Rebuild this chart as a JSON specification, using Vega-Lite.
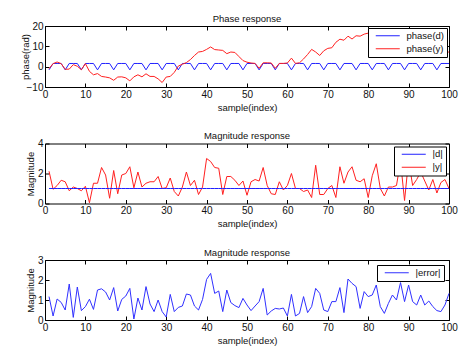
{
"$schema": "https://vega.github.io/schema/vega-lite/v6.json",
"autosize": {"type": "none"},
"padding": {"left": 45, "top": 26, "right": 429, "bottom": 336},
"datasets": {"d": [
{"n":1,"pd":-1.57,"py":-1,"md":1,"my":2.15,"e":1.17},
{"n":2,"pd":1.57,"py":1.5,"md":1,"my":0.95,"e":0.2},
{"n":3,"pd":1.57,"py":2.3,"md":1,"my":1.2,"e":1.05},
{"n":4,"pd":1.57,"py":1.5,"md":1,"my":1.55,"e":0.88},
{"n":5,"pd":-1.57,"py":-1.3,"md":1,"my":1.45,"e":0.5},
{"n":6,"pd":1.57,"py":-1.2,"md":1,"my":0.85,"e":1.8},
{"n":7,"pd":1.57,"py":1.0,"md":1,"my":1.1,"e":0.13},
{"n":8,"pd":1.57,"py":0.2,"md":1,"my":1.0,"e":1.65},
{"n":9,"pd":-1.57,"py":-1.5,"md":1,"my":0.85,"e":0.47},
{"n":10,"pd":1.57,"py":1.5,"md":1,"my":1.15,"e":0.67},
{"n":11,"pd":1.57,"py":-2.3,"md":1,"my":0.05,"e":1.04},
{"n":12,"pd":1.57,"py":-4,"md":1,"my":1.35,"e":0.53},
{"n":13,"pd":-1.57,"py":-3.4,"md":1,"my":1.35,"e":1.5},
{"n":14,"pd":1.57,"py":-4.8,"md":1,"my":2.4,"e":1.56},
{"n":15,"pd":1.57,"py":-5.1,"md":1,"my":1.9,"e":1.4},
{"n":16,"pd":1.57,"py":-5.5,"md":1,"my":0.35,"e":1.0},
{"n":17,"pd":-1.57,"py":-6.7,"md":1,"my":2.2,"e":1.62},
{"n":18,"pd":1.57,"py":-5.1,"md":1,"my":0.65,"e":0.45},
{"n":19,"pd":1.57,"py":-5,"md":1,"my":1.9,"e":1.03},
{"n":20,"pd":1.57,"py":-5.5,"md":1,"my":2.0,"e":1.2},
{"n":21,"pd":-1.57,"py":-7,"md":1,"my":2.45,"e":1.58},
{"n":22,"pd":1.57,"py":-5,"md":1,"my":1.05,"e":0.05},
{"n":23,"pd":1.57,"py":-4,"md":1,"my":2.1,"e":1.1},
{"n":24,"pd":1.57,"py":-5,"md":1,"my":1.1,"e":0.5},
{"n":25,"pd":-1.57,"py":-3.5,"md":1,"my":1.35,"e":1.67},
{"n":26,"pd":1.57,"py":-4.8,"md":1,"my":1.45,"e":0.8},
{"n":27,"pd":1.57,"py":-4.8,"md":1,"my":1.45,"e":0.42},
{"n":28,"pd":1.57,"py":-6,"md":1,"my":1.8,"e":1.0},
{"n":29,"pd":-1.57,"py":-7.8,"md":1,"my":1.0,"e":0.42},
{"n":30,"pd":1.57,"py":-5.1,"md":1,"my":1.05,"e":0.15},
{"n":31,"pd":1.57,"py":-4.8,"md":1,"my":1.7,"e":1.28},
{"n":32,"pd":1.57,"py":-2.8,"md":1,"my":0.8,"e":0.42},
{"n":33,"pd":-1.57,"py":0.3,"md":1,"my":0.5,"e":0.63},
{"n":34,"pd":1.57,"py":1.2,"md":1,"my":1.1,"e":0.7},
{"n":35,"pd":1.57,"py":2,"md":1,"my":2.1,"e":1.3},
{"n":36,"pd":1.57,"py":3.5,"md":1,"my":1.2,"e":1.25},
{"n":37,"pd":-1.57,"py":5.5,"md":1,"my":1.55,"e":0.7},
{"n":38,"pd":1.57,"py":7.2,"md":1,"my":0.6,"e":0.5},
{"n":39,"pd":1.57,"py":7.5,"md":1,"my":1.1,"e":1.03},
{"n":40,"pd":1.57,"py":8.5,"md":1,"my":3.0,"e":2.03},
{"n":41,"pd":-1.57,"py":9.7,"md":1,"my":2.8,"e":2.33},
{"n":42,"pd":1.57,"py":8.4,"md":1,"my":2.4,"e":1.33},
{"n":43,"pd":1.57,"py":8.2,"md":1,"my":2.35,"e":1.45},
{"n":44,"pd":1.57,"py":8,"md":1,"my":0.6,"e":0.42},
{"n":45,"pd":-1.57,"py":6.4,"md":1,"my":1.8,"e":1.5},
{"n":46,"pd":1.57,"py":7.2,"md":1,"my":1.8,"e":0.87},
{"n":47,"pd":1.57,"py":7,"md":1,"my":1.55,"e":0.72},
{"n":48,"pd":1.57,"py":5,"md":1,"my":1.2,"e":0.62},
{"n":49,"pd":-1.57,"py":3,"md":1,"my":1.5,"e":1.08},
{"n":50,"pd":1.57,"py":2.2,"md":1,"my":0.55,"e":0.75},
{"n":51,"pd":1.57,"py":1.8,"md":1,"my":1.45,"e":0.47},
{"n":52,"pd":1.57,"py":1.6,"md":1,"my":1.6,"e":0.7},
{"n":53,"pd":-1.57,"py":-0.8,"md":1,"my":1.5,"e":0.92},
{"n":54,"pd":1.57,"py":1.9,"md":1,"my":2.4,"e":1.58},
{"n":55,"pd":1.57,"py":1.9,"md":1,"my":1.2,"e":0.25},
{"n":56,"pd":1.57,"py":1.8,"md":1,"my":0.65,"e":0.45},
{"n":57,"pd":-1.57,"py":-0.8,"md":1,"my":0.6,"e":0.58},
{"n":58,"pd":1.57,"py":1.6,"md":1,"my":1.45,"e":0.55},
{"n":59,"pd":1.57,"py":1.6,"md":1,"my":0.9,"e":0.6},
{"n":60,"pd":1.57,"py":1.8,"md":1,"my":1.2,"e":0.2},
{"n":61,"pd":-1.57,"py":4.2,"md":1,"my":2.0,"e":1.28},
{"n":62,"pd":1.57,"py":1.6,"md":1,"my":1.0,"e":0.2},
{"n":63,"pd":1.57,"py":1.9,"md":1,"my":1.0,"e":0.33},
{"n":64,"pd":1.57,"py":3.8,"md":1,"my":0.8,"e":1.17},
{"n":65,"pd":-1.57,"py":6,"md":1,"my":0.9,"e":0.37},
{"n":66,"pd":1.57,"py":8.5,"md":1,"my":0.4,"e":0.67},
{"n":67,"pd":1.57,"py":7.2,"md":1,"my":2.55,"e":1.58},
{"n":68,"pd":1.57,"py":5.5,"md":1,"my":0.6,"e":1.33},
{"n":69,"pd":-1.57,"py":7.8,"md":1,"my":0.6,"e":0.5},
{"n":70,"pd":1.57,"py":9,"md":1,"my":1.0,"e":0.42},
{"n":71,"pd":1.57,"py":9.3,"md":1,"my":1.2,"e":0.92},
{"n":72,"pd":1.57,"py":12,"md":1,"my":0.4,"e":0.92},
{"n":73,"pd":-1.57,"py":13.5,"md":1,"my":2.45,"e":1.62},
{"n":74,"pd":1.57,"py":13,"md":1,"my":1.35,"e":0.37},
{"n":75,"pd":1.57,"py":15,"md":1,"my":2.1,"e":2.05},
{"n":76,"pd":1.57,"py":13.6,"md":1,"my":2.45,"e":1.83},
{"n":77,"pd":-1.57,"py":15.2,"md":1,"my":1.55,"e":1.67},
{"n":78,"pd":1.57,"py":15,"md":1,"my":1.45,"e":0.58},
{"n":79,"pd":1.57,"py":16,"md":1,"my":1.65,"e":1.42},
{"n":80,"pd":1.57,"py":16.5,"md":1,"my":0.4,"e":1.17},
{"n":81,"pd":-1.57,"py":17,"md":1,"my":1.85,"e":1.25},
{"n":82,"pd":1.57,"py":16.5,"md":1,"my":2.65,"e":1.75},
{"n":83,"pd":1.57,"py":17.5,"md":1,"my":1.0,"e":0.67},
{"n":84,"pd":1.57,"py":18,"md":1,"my":0.5,"e":0.33},
{"n":85,"pd":-1.57,"py":17,"md":1,"my":1.1,"e":0.83},
{"n":86,"pd":1.57,"py":18.5,"md":1,"my":1.1,"e":1.25},
{"n":87,"pd":1.57,"py":17.5,"md":1,"my":1.2,"e":1.0},
{"n":88,"pd":1.57,"py":18,"md":1,"my":2.8,"e":1.87},
{"n":89,"pd":-1.57,"py":17.5,"md":1,"my":0.2,"e":0.92},
{"n":90,"pd":1.57,"py":18,"md":1,"my":2.9,"e":1.75},
{"n":91,"pd":1.57,"py":17,"md":1,"my":1.2,"e":0.92},
{"n":92,"pd":1.57,"py":17.5,"md":1,"my":1.6,"e":0.75},
{"n":93,"pd":-1.57,"py":16.5,"md":1,"my":2.1,"e":1.25},
{"n":94,"pd":1.57,"py":17,"md":1,"my":1.5,"e":0.75},
{"n":95,"pd":1.57,"py":16,"md":1,"my":0.9,"e":0.95},
{"n":96,"pd":1.57,"py":14,"md":1,"my":1.6,"e":0.67},
{"n":97,"pd":-1.57,"py":12,"md":1,"my":0.7,"e":0.47},
{"n":98,"pd":1.57,"py":9.5,"md":1,"my":1.4,"e":0.42},
{"n":99,"pd":1.57,"py":8.5,"md":1,"my":1.6,"e":0.75},
{"n":100,"pd":1.57,"py":7,"md":1,"my":1.0,"e":1.33}
]},
"data": {"name": "d"},
"bounds": "flush",
"spacing": 56.5,
"vconcat": [
{
"title": "Phase response",
"width": 404, "height": 61,
"layer": [
{"mark": {"type": "line", "strokeWidth": 1},
 "encoding": {
  "x": {"field": "n", "type": "quantitative", "scale": {"domain": [0, 100]}, "axis": {"title": "sample(index)", "values": [0,10,20,30,40,50,60,70,80,90,100]}},
  "y": {"field": "pd", "type": "quantitative", "scale": {"domain": [-10, 20]}, "axis": {"title": "phase(rad)", "titlePadding": -4, "values": [-10,0,10,20]}},
  "color": {"datum": "phase(d)", "scale": {"domain": ["phase(d)", "phase(y)"], "range": ["#2020ff", "#ff2020"]}, "legend": {"title": null, "orient": "top-right", "offset": 2, "encode": {"symbols": {"update": {"stroke": {"signal": "datum.value == 'phase(y)' ? '#ff2020' : '#2020ff'"}}}}}}}},
{"mark": {"type": "line", "strokeWidth": 1},
 "encoding": {
  "x": {"field": "n", "type": "quantitative", "axis": null},
  "y": {"field": "py", "type": "quantitative", "axis": null},
  "color": {"datum": "phase(y)"}}},
{"mark": {"type": "line", "opacity": 0},
 "encoding": {
  "x": {"field": "n", "type": "quantitative", "axis": {"orient": "top", "labels": false, "title": null, "values": [0,10,20,30,40,50,60,70,80,90,100]}},
  "y": {"field": "py", "type": "quantitative", "axis": {"orient": "right", "labels": false, "title": null, "values": [-10,0,10,20]}}}}
],
"resolve": {"axis": {"x": "independent", "y": "independent"}}
},
{
"title": "Magnitude response",
"width": 404, "height": 60,
"layer": [
{"mark": {"type": "line", "strokeWidth": 1},
 "encoding": {
  "x": {"field": "n", "type": "quantitative", "scale": {"domain": [0, 100]}, "axis": {"title": "sample(index)", "values": [0,10,20,30,40,50,60,70,80,90,100]}},
  "y": {"field": "my", "type": "quantitative", "scale": {"domain": [0, 4]}, "axis": {"title": "Magnitude", "titlePadding": 2, "values": [0,2,4]}},
  "color": {"datum": "|y|", "scale": {"domain": ["|d|", "|y|"], "range": ["#2020ff", "#ff2020"]}, "legend": {"title": null, "orient": "top-right", "offset": 3, "encode": {"symbols": {"update": {"stroke": {"signal": "datum.value == '|y|' ? '#ff2020' : '#2020ff'"}}}}}}}},
{"mark": {"type": "line", "strokeWidth": 1},
 "encoding": {
  "x": {"field": "n", "type": "quantitative", "axis": null},
  "y": {"field": "md", "type": "quantitative", "axis": null},
  "color": {"datum": "|d|"}}},
{"mark": {"type": "line", "opacity": 0},
 "encoding": {
  "x": {"field": "n", "type": "quantitative", "axis": {"orient": "top", "labels": false, "title": null, "values": [0,10,20,30,40,50,60,70,80,90,100]}},
  "y": {"field": "my", "type": "quantitative", "axis": {"orient": "right", "labels": false, "title": null, "values": [0,2,4]}}}}
],
"resolve": {"axis": {"x": "independent", "y": "independent"}}
},
{
"title": "Magnitude response",
"width": 404, "height": 60,
"layer": [
{"mark": {"type": "line", "strokeWidth": 1},
 "encoding": {
  "x": {"field": "n", "type": "quantitative", "scale": {"domain": [0, 100]}, "axis": {"title": "sample(index)", "values": [0,10,20,30,40,50,60,70,80,90,100]}},
  "y": {"field": "e", "type": "quantitative", "scale": {"domain": [0, 3]}, "axis": {"title": "Magnitude", "titlePadding": 2, "values": [0,1,2,3]}},
  "color": {"datum": "|error|", "scale": {"domain": ["|error|"], "range": ["#3030ff"]}, "legend": {"title": null, "orient": "top-right", "offset": 5, "encode": {"symbols": {"update": {"stroke": {"value": "#3030ff"}}}}}}}},
{"mark": {"type": "line", "opacity": 0},
 "encoding": {
  "x": {"field": "n", "type": "quantitative", "axis": {"orient": "top", "labels": false, "title": null, "values": [0,10,20,30,40,50,60,70,80,90,100]}},
  "y": {"field": "e", "type": "quantitative", "axis": {"orient": "right", "labels": false, "title": null, "values": [0,1,2,3]}}}}
],
"resolve": {"axis": {"x": "independent", "y": "independent"}}
}
],
"resolve": {"scale": {"color": "independent"}, "legend": {"color": "independent"}},
"config": {
 "font": "Liberation Sans",
 "background": "white",
 "view": {"stroke": "black", "strokeWidth": 1},
 "axis": {"grid": false, "domain": false, "ticks": true, "tickSize": -4, "tickColor": "black", "tickWidth": 1, "labelPadding": 6, "labelFontSize": 10, "labelColor": "#111", "labelFlush": false, "labelOverlap": false, "titleFontSize": 9.5, "titleFontWeight": "normal", "titleColor": "#111", "titlePadding": 3},
 "title": {"fontSize": 9.5, "fontWeight": "normal", "color": "#111", "anchor": "middle", "offset": -2},
 "legend": {"symbolType": "M0,0H6", "symbolSize": 64, "symbolStrokeWidth": 1, "symbolFillColor": "transparent", "strokeColor": "black", "fillColor": "white", "padding": 3, "labelFontSize": 9.5, "labelColor": "#111", "labelOffset": 26, "rowPadding": 2, "cornerRadius": 0}
}
}
